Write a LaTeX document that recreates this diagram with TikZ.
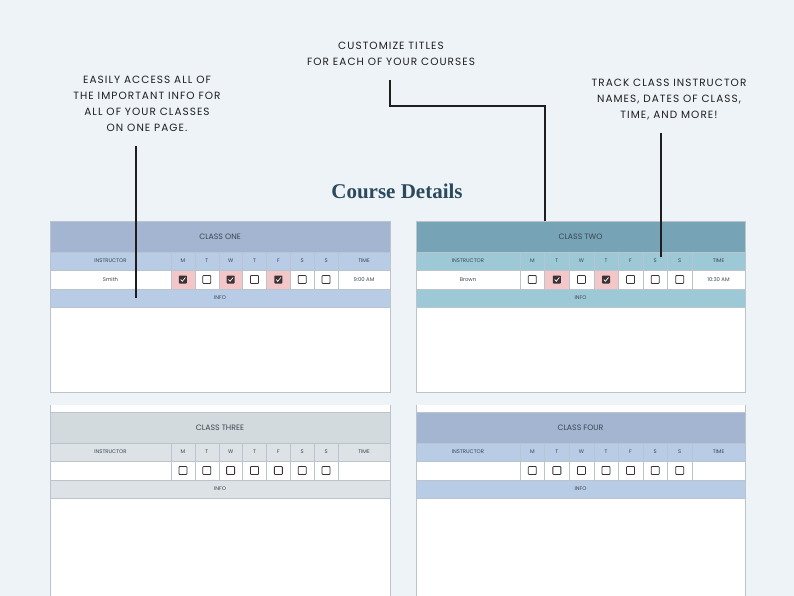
\documentclass[tikz,border=0pt]{standalone}
\usepackage{fontspec}
\setmainfont{Poppins}
\newfontfamily\titlefont{Liberation Serif}
\definecolor{bg}{HTML}{EEF3F8}
\definecolor{ink}{HTML}{1E1E1E}
\definecolor{hdA}{HTML}{A3B5D0}\definecolor{rwA}{HTML}{B8CCE6}
\definecolor{hdB}{HTML}{76A3B5}\definecolor{rwB}{HTML}{9DC9D6}
\definecolor{hdC}{HTML}{D2DADE}\definecolor{rwC}{HTML}{DDE2E6}
\definecolor{pinkc}{HTML}{F3C6C8}\definecolor{gridc}{HTML}{B9C4CE}
\definecolor{titc}{HTML}{2B4A5E}\definecolor{txt}{HTML}{3B4650}
\definecolor{chk}{HTML}{3A3236}
\tikzset{
 callout/.style={align=center,font=\fontsize{10.5}{16}\selectfont\addfontfeature{LetterSpace=10},text=ink},
 lead/.style={draw=ink,line width=1.4pt},
 small/.style={font=\fontsize{5.3}{6}\selectfont,text=txt},
 head/.style={font=\fontsize{7.8}{9}\selectfont,text=txt},
 box/.style={draw=chk,line width=0.8pt,fill=white},
}
\newcommand{\cbox}[3]{% x y checked
 \ifnum#3=1
  \fill[chk,rounded corners=0.8pt] (#1-4,#2-4) rectangle (#1+4,#2+4);
  \draw[white,line width=0.7pt] (#1-2.2,#2) -- (#1-0.6,#2+1.8) -- (#1+2.5,#2-2);
 \else
  \draw[box,rounded corners=0.8pt] (#1-4,#2-4) rectangle (#1+4,#2+4);
 \fi}
\newcommand{\panel}[9]{%
 \def\xa{#1}\def\xb{#2}\def\yt{#3}\def\xi{#4}\def\xt{#5}
 \pgfmathsetmacro{\ya}{\yt+31}\pgfmathsetmacro{\yb}{\ya+18}\pgfmathsetmacro{\yc}{\yb+19}\pgfmathsetmacro{\yd}{\yc+18}
 \pgfmathsetmacro{\cy}{(\yb+\yc)/2}
 \fill[#6] (\xa,\yt) rectangle (\xb,\ya);
 \fill[#7] (\xa,\ya) rectangle (\xb,\yb);
 \fill[white] (\xa,\yb) rectangle (\xb,\yc);
 \fill[#7] (\xa,\yc) rectangle (\xb,\yd);
 \fill[white] (\xa,\yd) rectangle (\xb,600);
 \node[head] at ({(\xa+\xb)/2},{(\yt+\ya)/2}) {#8};
 \node[small] at ({(\xa+\xi)/2},{(\ya+\yb)/2}) {INSTRUCTOR};
 \node[small] at ({(\xt+\xb)/2},{(\ya+\yb)/2}) {TIME};
 \pgfmathsetmacro{\dw}{(\xt-\xi)/7}
 \foreach \d [count=\k from 0] in {M,T,W,T,F,S,S}{
   \pgfmathsetmacro{\cx}{\xi+(\k+0.5)*\dw}
   \node[small] at (\cx,{(\ya+\yb)/2}) {\d};
 }
 \foreach \c [count=\k from 0] in {#9}{
   \pgfmathsetmacro{\cx}{\xi+(\k+0.5)*\dw}
   \pgfmathsetmacro{\cl}{\xi+\k*\dw}
   \ifnum\c=1 \fill[pinkc] (\cl,\yb) rectangle ++(\dw,19);\fi
   \cbox{\cx}{\cy}{\c}
 }
 \foreach \k in {0,...,7}{\draw[gridc,line width=0.4pt] ({\xi+\k*\dw},\ya) -- ({\xi+\k*\dw},\yc);}
 \draw[gridc,line width=0.4pt] (\xa,\ya)--(\xb,\ya) (\xa,\yb)--(\xb,\yb) (\xa,\yc)--(\xb,\yc) (\xa,\yd)--(\xb,\yd);
 \draw[gridc,line width=0.6pt] (\xa,600) -- (\xa,\yt) -- (\xb,\yt) -- (\xb,600);
 \node[small] at ({(\xa+\xb)/2},{(\yc+\yd)/2}) {INFO};
}
\begin{document}
\begin{tikzpicture}[x=1pt,y=-1pt]
\fill[bg] (0,0) rectangle (794,596);
\useasboundingbox (0,0) rectangle (794,596);
\node[font=\titlefont\bfseries\fontsize{21}{24}\selectfont,text=titc] (title) at (397,191) {Course Details};
\begin{scope}
\panel{50}{390}{221}{171}{338}{hdA}{rwA}{CLASS ONE}{1,0,1,0,1,0,0}
\node[small] at (110.5,279.5) {Smith};
\node[small] at (364,279.5) {9:00 AM};
\draw[gridc] (50,392) -- (390,392);
\end{scope}
\begin{scope}
\panel{416}{745}{221}{520}{692}{hdB}{rwB}{CLASS TWO}{0,1,0,1,0,0,0}
\node[small] at (468,279.5) {Brown};
\node[small] at (718.5,279.5) {10:30 AM};
\draw[gridc] (416,392) -- (745,392);
\end{scope}
\fill[bg] (40,393) rectangle (760,405);
\panel{50}{390}{412}{171}{338}{hdC}{rwC}{CLASS THREE}{0,0,0,0,0,0,0}
\panel{416}{745}{412}{520}{692}{hdA}{rwA}{CLASS FOUR}{0,0,0,0,0,0,0}
\node[callout] (c1) at (147,104) {EASILY ACCESS ALL OF\\THE IMPORTANT INFO FOR\\ALL OF YOUR CLASSES\\ON ONE PAGE.};
\coordinate (e1) at (136,298);
\draw[lead] (136,146) -- (e1);
\node[callout] (c2) at (391,54) {CUSTOMIZE TITLES\\FOR EACH OF YOUR COURSES};
\coordinate (e2) at (545,221);
\draw[lead] (390,80) -- (390,106) -- (545,106) -- (e2);
\node[callout] (c3) at (669,100) {TRACK CLASS INSTRUCTOR\\NAMES, DATES OF CLASS,\\TIME, AND MORE!};
\coordinate (e3) at (661,257);
\draw[lead] (661,133) -- (e3);
\end{tikzpicture}
\end{document}
